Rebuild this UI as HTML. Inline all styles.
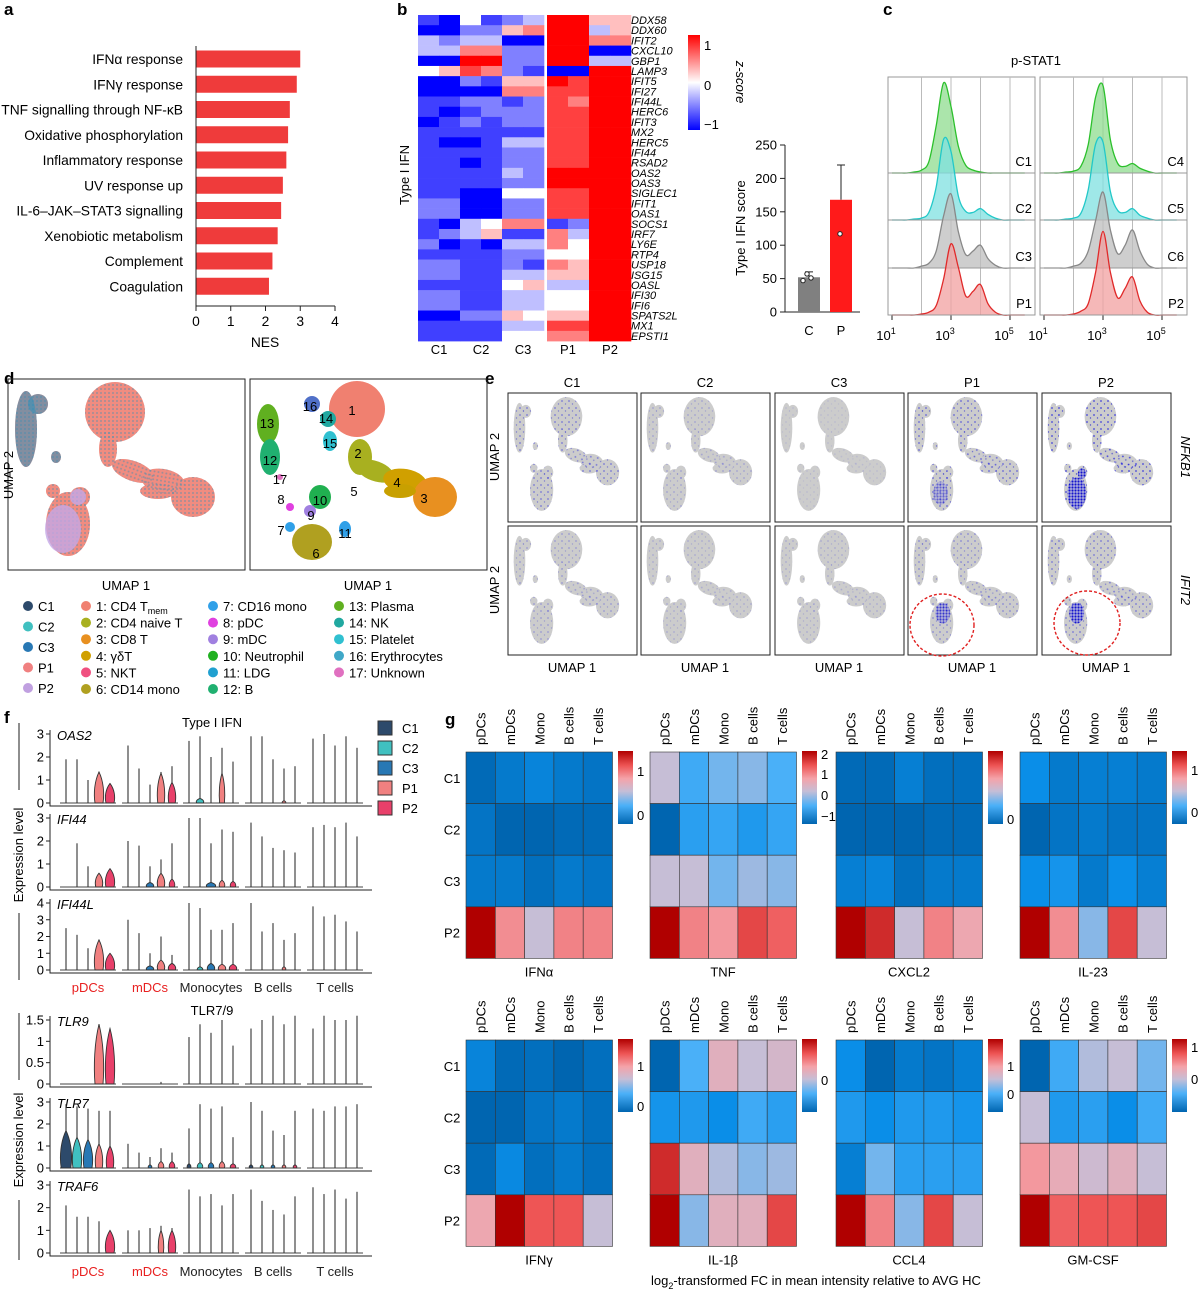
<!DOCTYPE html>
<html><head><meta charset="utf-8">
<style>
html,body{margin:0;padding:0;background:#fff;}
svg{display:block;font-family:"Liberation Sans",Arial,sans-serif;}
</style></head>
<body>
<svg id="fig" width="1200" height="1291" viewBox="0 0 1200 1291" xmlns="http://www.w3.org/2000/svg">
<defs>
<linearGradient id="bwrGrad" x1="0" y1="0" x2="0" y2="1">
<stop offset="0" stop-color="#ff0000"/><stop offset="0.5" stop-color="#ffffff"/><stop offset="1" stop-color="#0000ff"/>
</linearGradient>
<linearGradient id="gGrad" x1="0" y1="0" x2="0" y2="1">
<stop offset="0" stop-color="#b00000"/><stop offset="0.2" stop-color="#ee5555"/><stop offset="0.38" stop-color="#f4a3aa"/><stop offset="0.55" stop-color="#c6bed6"/><stop offset="0.75" stop-color="#4ab0f8"/><stop offset="1" stop-color="#0065b0"/>
</linearGradient>
<pattern id="dots" width="7" height="7" patternUnits="userSpaceOnUse"><circle cx="2" cy="2" r="0.9" fill="#2020e0"/><circle cx="5.5" cy="5" r="0.7" fill="#3030d0"/></pattern>
<pattern id="dense" width="3" height="3" patternUnits="userSpaceOnUse"><rect width="3" height="3" fill="#b0b0e0"/><circle cx="1.5" cy="1.5" r="1.1" fill="#0000cc"/></pattern>
<pattern id="teal" width="4" height="4" patternUnits="userSpaceOnUse"><circle cx="1" cy="1" r="1" fill="#3a8fb5"/></pattern>
</defs>
<g font-weight="bold" font-size="17">
<text x="4" y="15">a</text>
<text x="397" y="15">b</text>
<text x="883" y="15">c</text>
<text x="4" y="384">d</text>
<text x="485" y="384">e</text>
<text x="4" y="723">f</text>
<text x="445" y="725">g</text>
</g>
</svg>
<script>
// ---------- DATA ----------
const nesCategories=["IFNα response","IFNγ response","TNF signalling through NF-κB","Oxidative phosphorylation","Inflammatory response","UV response up","IL-6–JAK–STAT3 signalling","Xenobiotic metabolism","Complement","Coagulation"];
const nesValues=[3.0,2.9,2.7,2.65,2.6,2.5,2.45,2.35,2.2,2.1];
const nesTicks=[0,1,2,3,4];

const bGenes=["DDX58","DDX60","IFIT2","CXCL10","GBP1","LAMP3","IFIT5","IFI27","IFI44L","HERC6","IFIT3","MX2","HERC5","IFI44","RSAD2","OAS2","OAS3","SIGLEC1","IFIT1","OAS1","SOCS1","IRF7","LY6E","RTP4","USP18","ISG15","OASL","IFI30","IFI6","SPATS2L","MX1","EPSTI1"];
// digits 0..8 : z = (d-4)/4
const bValues=["1041238855","0022568835","3233008866","3366228800","0088228833","4576210088","0021558788","0000667788","1122127688","1012227788","0121227788","1111117788","1001337788","1111227788","1101227788","1111328888","1111228888","1100447788","2200227788","2200227788","1034661288","1235116388","2010336488","1111224488","2211216588","2211335588","1111453388","2211334488","2211334488","0022545588","1111337788","1111446688"];
const bColumns=["C1","C2","C3","P1","P2"];

const scoreGroups=["C","P"];
const scoreMeans=[52,168];
const scoreErr=[60,220];
const scoreDotsC=[47,57,51];
const scoreDotsP=[117];
const scoreTicks=[0,50,100,150,200,250];

const histLogs=[1,1.25,1.5,1.75,2,2.25,2.5,2.75,3,3.25,3.5,3.75,4,4.25,4.5,4.75,5,5.25,5.5];
const histC1=[0,0,0,.01,.03,.12,.5,.95,.7,.28,.08,.03,.01,0,0,0,0,0,0];
const histC2=[0,0,0,.01,.02,.08,.35,.85,.72,.25,.09,.08,.12,.06,.02,0,0,0,0];
const histC3=[0,0,0,0,.02,.05,.18,.55,.78,.38,.14,.18,.24,.1,.03,0,0,0,0];
const histP1=[0,0,0,0,.01,.03,.1,.38,.75,.5,.2,.25,.32,.12,.03,0,0,0,0];
const histC4=[0,0,0,.01,.02,.07,.3,.8,.92,.35,.1,.07,.1,.05,.02,0,0,0,0];
const histC5=[0,0,0,.01,.02,.07,.32,.8,.82,.3,.1,.08,.12,.05,.02,0,0,0,0];
const histC6=[0,0,0,0,.02,.05,.18,.5,.8,.4,.15,.24,.4,.18,.04,0,0,0,0];
const histP2=[0,0,0,0,.01,.04,.12,.45,.88,.45,.18,.28,.4,.15,.03,0,0,0,0];
const histLabels=["C1","C2","C3","P1","C4","C5","C6","P2"];

const fGroups=["pDCs","mDCs","Monocytes","B cells","T cells"];
const fSamples=["C1","C2","C3","P1","P2"];
const fGenes=["OAS2","IFI44","IFI44L","TLR9","TLR7","TRAF6"];
const fMax={
OAS2:[1.9,1.9,1.0,1.35,0.85, 2.5,1.5,0.8,1.35,1.6, 2.7,2.9,2.0,2.4,1.8, 2.9,2.9,1.9,1.5,1.6, 2.8,3.0,2.5,2.9,2.4],
IFI44:[0,1.9,0.9,0.6,0.8, 2.0,1.8,0.9,1.2,1.9, 3.0,3.0,1.9,2.5,2.4, 2.8,2.2,1.7,1.6,1.5, 2.6,2.7,2.6,2.8,2.2],
IFI44L:[2.5,2.1,1.3,1.8,1.0, 3.0,2.2,1.0,2.0,0.9, 4.0,3.7,2.4,2.4,2.8, 4.0,2.3,2.8,1.8,2.2, 3.8,3.2,3.3,2.9,2.3],
TLR9:[0,0,0,1.4,1.3, 0,0,0,0.05,0, 1.1,1.4,1.2,1.5,0.9, 1.3,1.5,1.6,1.4,1.6, 1.3,1.6,1.5,1.5,1.6],
TLR7:[2.9,2.8,2.7,2.6,2.6, 1.1,0.7,0.5,0.9,0.7, 1.8,2.9,2.7,2.8,1.4, 3.0,2.6,1.7,1.5,2.6, 2.7,2.6,2.8,2.8,2.9],
TRAF6:[2.1,1.6,1.6,1.4,1.0, 1.0,1.0,1.1,1.2,1.1, 2.8,2.5,2.6,2.1,2.6, 2.8,2.3,1.9,1.7,2.5, 2.9,2.6,2.8,2.4,2.7]};
const fBulbW={
OAS2:[0,0,0,5,5, 0,0,0,4,4, 0,4,0,3,0, 0,0,0,2,0, 0,0,0,0,0],
IFI44:[0,0,0,4,5, 0,0,4,4,3, 0,0,5,3,3, 0,0,0,0,0, 0,0,0,0,0],
IFI44L:[0,0,0,5,5, 0,0,4,4,4, 0,3,4,4,4, 0,0,0,2,0, 0,0,0,0,0],
TLR9:[0,0,0,5,5, 0,0,0,0,0, 0,0,0,0,0, 0,0,0,0,0, 0,0,0,0,0],
TLR7:[6,5,5,4,4, 0,0,2,3,3, 2,3,3,3,3, 2,2,2,2,2, 0,0,0,0,0],
TRAF6:[0,0,0,0,5, 0,0,0,3,4, 0,0,0,0,0, 0,0,0,0,0, 0,0,0,0,0]};
const fBulbH={
OAS2:[0,0,0,1.35,0.85, 0,0,0,1.3,0.9, 0,0.2,0,1.3,0, 0,0,0,0.1,0, 0,0,0,0,0],
IFI44:[0,0,0,0.6,0.8, 0,0,0.2,0.6,0.35, 0,0,0.2,0.3,0.25, 0,0,0,0,0, 0,0,0,0,0],
IFI44L:[0,0,0,1.8,1.0, 0,0,0.25,0.6,0.4, 0,0.2,0.4,0.35,0.35, 0,0,0,0.2,0, 0,0,0,0,0],
TLR9:[0,0,0,1.4,1.3, 0,0,0,0,0, 0,0,0,0,0, 0,0,0,0,0, 0,0,0,0,0],
TLR7:[1.7,1.4,1.3,1.1,1.0, 0,0,0.15,0.3,0.3, 0.2,0.25,0.25,0.3,0.2, 0.15,0.15,0.15,0.15,0.15, 0,0,0,0,0],
TRAF6:[0,0,0,0,1.0, 0,0,0,1.0,1.0, 0,0,0,0,0, 0,0,0,0,0, 0,0,0,0,0]};
const fYMax={OAS2:3,IFI44:3,IFI44L:4,TLR9:1.5,TLR7:3,TRAF6:3};
const fTicks={OAS2:[0,1,2,3],IFI44:[0,1,2,3],IFI44L:[0,1,2,3,4],TLR9:[0,0.5,1,1.5],TLR7:[0,1,2,3],TRAF6:[0,1,2,3]};

const gCells=["pDCs","mDCs","Mono","B cells","T cells"];
const gRows=["C1","C2","C3","P2"];
const gNames=["IFNα","TNF","CXCL2","IL-23","IFNγ","IL-1β","CCL4","GM-CSF"];
const gIFNa=[[-.95,-.8,-.7,-.8,-.85],[-.85,-1,-1,-.95,-.95],[-.8,-.8,-.9,-.8,-.85],[1,.45,0,.5,.5]];
const gTNF=[[0,-.35,-.2,-.15,-.3],[-1,-.45,-.4,-.5,-.4],[0,0,-.2,-.1,-.15],[1,.5,.4,.75,.65]];
const gCXCL2=[[-.95,-.95,-.75,-.9,-.9],[-1,-1,-1,-.95,-.95],[-.75,-.7,-.9,-.8,-.8],[1,.85,0,.5,.3]];
const gIL23=[[-.6,-.8,-.75,-.75,-.8],[-1,-.85,-.8,-.85,-.85],[-.6,-.55,-.8,-.6,-.75],[1,.45,-.15,.75,0]];
const gIFNg=[[-.7,-.95,-.9,-1,-.9],[-1,-1,-.85,-.8,-.9],[-.95,-.65,-.9,-.8,-.9],[.3,1,.7,.7,0]];
const gIL1b=[[-1,-.3,.2,0,.1],[-.55,-.5,-.6,-.35,-.45],[.85,.2,-.05,-.15,-.1],[1,-.15,.2,.2,.75]];
const gCCL4=[[-.6,-1,-.8,-.85,-.75],[-.5,-.6,-.5,-.5,-.55],[-.75,-.2,-.45,-.45,-.45],[1,.5,-.15,.75,0]];
const gGMCSF=[[-1,-.35,-.05,0,-.2],[0,-.5,-.45,-.6,-.35],[.4,.25,.05,.2,0],[1,.65,.7,.7,.75]];
const gTickLabels=[["1","0"],["2","1","0","−1"],["0"],["1","0"],["1","0"],["0"],["1","0"],["1","0"]];

// ---------- HELPERS ----------
const svg=document.getElementById('fig');
const NS='http://www.w3.org/2000/svg';
function mk(tag,attrs,parent){const e=document.createElementNS(NS,tag);for(const k in attrs)e.setAttribute(k,attrs[k]);(parent||svg).appendChild(e);return e;}
function tx(x,y,s,attrs,parent){const t=mk('text',Object.assign({x:x,y:y},attrs||{}),parent);t.textContent=s;return t;}
function lerp(a,b,t){return a+(b-a)*t;}
function hex(c){return [parseInt(c.slice(1,3),16),parseInt(c.slice(3,5),16),parseInt(c.slice(5,7),16)];}
function ramp(stops,v){for(let i=0;i<stops.length-1;i++){if(v<=stops[i+1][0]||i==stops.length-2){const t=Math.max(0,Math.min(1,(v-stops[i][0])/(stops[i+1][0]-stops[i][0])));const a=hex(stops[i][1]),b=hex(stops[i+1][1]);return 'rgb('+a.map((x,k)=>Math.round(lerp(x,b[k],t))).join(',')+')';}}}
const bwrStops=[[-1,'#0000ff'],[0,'#ffffff'],[1,'#ff0000']];
const gStops=[[-1,'#0065b0'],[-0.6,'#0a8ee8'],[-0.3,'#4ab0f8'],[0,'#c6bed6'],[0.35,'#f4a3aa'],[0.7,'#ee5555'],[1,'#b00000']];
function smoothPath(pts){let d='M'+pts[0][0]+','+pts[0][1];for(let i=0;i<pts.length-1;i++){const p0=pts[Math.max(0,i-1)],p1=pts[i],p2=pts[i+1],p3=pts[Math.min(pts.length-1,i+2)];d+=' C'+(p1[0]+(p2[0]-p0[0])/6)+','+(p1[1]+(p2[1]-p0[1])/6)+' '+(p2[0]-(p3[0]-p1[0])/6)+','+(p2[1]-(p3[1]-p1[1])/6)+' '+p2[0]+','+p2[1];}return d;}

// ---------- PANEL A ----------
const gA=mk('g',{'font-size':13.8});


const xA=v=>196+v*34.75, yA=i=>59+i*25.25;
nesCategories.forEach((c,i)=>{
  const r=mk('rect',{x:xA(0),y:yA(i)-8.5,width:xA(nesValues[i])-xA(0),height:17,fill:'#ef3b3b'},gA);
  
  
  const t=tx(183,yA(i)+5,c,{'text-anchor':'end'},gA);
  
  
});
let axA=mk('path',{d:'M196,46V306H335',stroke:'#222',fill:'none','stroke-width':1},gA);


nesTicks.forEach(v=>{
  const l=mk('line',{x1:xA(v),x2:xA(v),y1:306,y2:311,stroke:'#222'},gA);
  
  
  const t=tx(xA(v),326,String(v),{'text-anchor':'middle'},gA);
  
  
});
let nesT=tx(265,347,'NES',{'text-anchor':'middle'},gA);



// ---------- PANEL B ----------
const gB=mk('g',{});


const colXB=j=>418+j*21+(j>=6?3:0), rowYB=i=>15+i*10.19;
bValues.forEach((row,i)=>{
  for(let j=0;j<10;j++){
    const v=(parseInt(row[j])-4)/4;
    const r=mk('rect',{x:colXB(j),y:rowYB(i),width:21.3,height:10.5,fill:ramp(bwrStops,v)},gB);
    
    
  }
  const t=tx(631,rowYB(i)+9,bGenes[i],{'font-size':11,'font-style':'italic'},gB);
  
  
});
bColumns.forEach((c,k)=>{
  const t=tx((colXB(2*k)+colXB(2*k+1)+21)/2,354,c,{'text-anchor':'middle','font-size':13},gB);
  
  
});
let bY=tx(0,0,'Type I IFN',{'font-size':13,'text-anchor':'middle',transform:'translate(409,175) rotate(-90)'},gB);


let bCb=mk('rect',{x:688,y:35,width:12,height:95,fill:'url(#bwrGrad)'},gB);


[["1",50],["0",90],["−1",129]].forEach(p=>{const t=tx(704,p[1],p[0],{'font-size':13},gB);
  
  });
let zs=tx(0,0,'z-score',{'font-size':13,'text-anchor':'middle','font-style':'italic',transform:'translate(736,82) rotate(90)'},gB);



// ---------- TYPE I IFN SCORE ----------
const gS=mk('g',{'font-size':13});


const yS=v=>312-v*0.668;
let axS=mk('path',{d:'M785,'+yS(250)+'V312H860',stroke:'#222',fill:'none'},gS);


scoreTicks.forEach(v=>{
  const l=mk('line',{x1:780,x2:785,y1:yS(v),y2:yS(v),stroke:'#222'},gS);
  
  
  const t=tx(777,yS(v)+4.5,String(v),{'text-anchor':'end'},gS);
  
  
});
const scoreColors=['#808080','#ff1a1a'];
scoreGroups.forEach((g,i)=>{
  const x0=798+i*32;
  const e=mk('path',{d:'M'+(x0+11)+','+yS(scoreMeans[i])+'V'+yS(scoreErr[i])+'M'+(x0+7)+','+yS(scoreErr[i])+'H'+(x0+15),stroke:'#222',fill:'none'},gS);
  
  
  const r=mk('rect',{x:x0,y:yS(scoreMeans[i]),width:22,height:312-yS(scoreMeans[i]),fill:scoreColors[i]},gS);
  
  
  const t=tx(x0+11,335,g,{'text-anchor':'middle'},gS);
  
  
});
[scoreDotsC,scoreDotsP].forEach((arr,i)=>arr.forEach((v,k)=>{
  const c=mk('circle',{cx:803+i*37+k*4,cy:yS(v),r:2.2,fill:'#fff',stroke:'#222'},gS);
  
  
}));
let sY=tx(0,0,'Type I IFN score',{'text-anchor':'middle',transform:'translate(745,228) rotate(-90)'},gS);



// ---------- PANEL C ----------
const gC=mk('g',{'font-size':13});


let pst=tx(1036,65,'p-STAT1',{'text-anchor':'middle'},gC);


const histSets=[[histC1,histC2,histC3,histP1],[histC4,histC5,histC6,histP2]];
const histFill=['#8fdc8f','#7fe0e0','#bdbdbd','#f2a0a0'];
const histLine=['#2cc02c','#22c8c8','#888888','#e02a2a'];
const baseY=[173,220,268,315];
[888,1040].forEach((px,p)=>{
  const xL=l=>px+63+(l-3)*29.5;
  const box=mk('rect',{x:px,y:77,width:147,height:238,fill:'none',stroke:'#999'},gC);
  
  
  [2,3,4,5].forEach(l=>{const g=mk('line',{x1:xL(l),x2:xL(l),y1:77,y2:315,stroke:'#bbb'},gC);
    
    });
  [1,3,5].forEach(l=>{
    const t=tx(xL(l)-6,340,'10',{'text-anchor':'middle'},gC);
    const s=mk('tspan',{dy:-6,'font-size':9},t);s.textContent=String(l);
    
    
    const tk=mk('line',{x1:xL(l),x2:xL(l),y1:315,y2:320,stroke:'#222'},gC);
    
    
  });
  for(let k=0;k<4;k++){
    const arr=histSets[p][k];
    const pts=histLogs.map((l,i)=>[xL(l),baseY[k]-arr[i]*95]);
    const d=smoothPath(pts);
    const f=mk('path',{d:d+' L'+xL(5.5)+','+baseY[k]+' L'+xL(1)+','+baseY[k]+'Z',fill:histFill[k],'fill-opacity':0.75,stroke:'none'},gC);
    
    
    const ln=mk('path',{d:d,fill:'none',stroke:histLine[k],'stroke-width':1.3},gC);
    
    
    const bl=mk('line',{x1:px,x2:px+147,y1:baseY[k],y2:baseY[k],stroke:'#999'},gC);
    
    
    const t=tx(px+144,baseY[k]-7,histLabels[p*4+k],{'text-anchor':'end'},gC);
    
    
  }
});

// ---------- UMAP SHAPES ----------
const umapShape=[[107,33,30,30,0],[100,70,9,18,0],[125,92,22,10,20],[155,102,22,12,10],[185,118,22,20,0],[150,112,18,8,0],[18,50,11,38,0],[30,25,10,10,0],[60,145,22,32,0],[72,118,10,10,0],[45,112,7,7,0],[48,78,5,6,0]];
function drawShape(g,ox,oy,sx,sy,fill,op,list){
  (list||umapShape).forEach(e=>{
    const el=mk('ellipse',{cx:ox+e[0]*sx,cy:oy+e[1]*sy,rx:e[2]*sx,ry:e[3]*sy,fill:fill,'fill-opacity':op,transform:'rotate('+e[4]+' '+(ox+e[0]*sx)+' '+(oy+e[1]*sy)+')'},g);
    
    
  });
}
// ---------- PANEL D ----------
const gD=mk('g',{'font-size':13});


[[8,'umap-by-sample'],[250,'umap-by-cluster']].forEach(b=>{
  const r=mk('rect',{x:b[0],y:379,width:237,height:191,fill:'none',stroke:'#222'},gD);
  
  
  const t=tx(b[0]+118,590,'UMAP 1',{'text-anchor':'middle'},gD);
  
  
});
let dY=tx(0,0,'UMAP 2',{'text-anchor':'middle',transform:'translate(13,475) rotate(-90)'},gD);


drawShape(gD,8,379,1,1,'#f08c80',1);
drawShape(gD,8,379,1,1,'#3a8fb5',0.6,[[18,50,11,38,0],[30,25,10,10,0],[48,78,5,6,0]]);
drawShape(gD,8,379,1,1,'url(#teal)',0.45);
drawShape(gD,8,379,1,1,'#c4a8e6',0.8,[[55,150,18,24,0],[70,118,8,8,0]]);
const clusterEll=[[107,30,28,28,0,'#f08070'],[62,25,8,8,0,'#5070c8'],[78,40,8,8,0,'#20a8a0'],[80,62,7,10,0,'#30c0d0'],[110,78,12,18,0,'#a8b020'],[125,92,20,10,20,'#a8b020'],[155,102,22,12,10,'#d0a000'],[185,118,22,20,0,'#e89020'],[150,112,16,7,0,'#c8a000'],[18,45,11,20,0,'#60b020'],[20,78,10,18,0,'#20b070'],[70,118,11,12,0,'#20b050'],[60,132,6,6,0,'#a080e0'],[95,150,6,8,0,'#30a0e8'],[40,148,5,5,0,'#30a0e8'],[40,128,4,4,0,'#e040e0'],[62,163,20,18,0,'#b0a020'],[30,98,3,3,0,'#e070c0']];
clusterEll.forEach(e=>{
  const el=mk('ellipse',{cx:250+e[0],cy:379+e[1],rx:e[2],ry:e[3],fill:e[5],transform:'rotate('+e[4]+' '+(250+e[0])+' '+(379+e[1])+')'},gD);
  
  
});
const clusterNums=[["1",102,36],["16",60,32],["14",76,44],["15",80,69],["2",108,79],["4",147,108],["3",174,124],["5",104,117],["13",17,49],["12",20,86],["17",30,105],["8",31,125],["10",70,126],["9",61,141],["7",31,156],["11",95,159],["6",66,179]];
clusterNums.forEach(n=>{const t=tx(250+n[1],379+n[2],n[0],{'text-anchor':'middle'},gD);
  
  });
const legSamples=[["C1","#2d4a6b"],["C2","#40c0c0"],["C3","#2878b4"],["P1","#f08080"],["P2","#c0a0e0"]];
legSamples.forEach((s,i)=>{
  const c=mk('circle',{cx:28,cy:606+i*20.5,r:5,fill:s[1]},gD);
  
  
  const t=tx(38,611+i*20.5,s[0],{},gD);
  
  
});
const legClusters=[["1: CD4 T","#f08070","mem"],["2: CD4 naive T","#a8b020"],["3: CD8 T","#e89020"],["4: γδT","#d0a000"],["5: NKT","#f05080"],["6: CD14 mono","#b0a020"],["7: CD16 mono","#30a0e8"],["8: pDC","#e040e0"],["9: mDC","#a080e0"],["10: Neutrophil","#20b020"],["11: LDG","#20a0d0"],["12: B","#20b070"],["13: Plasma","#60b020"],["14: NK","#20a8a0"],["15: Platelet","#30c0d0"],["16: Erythrocytes","#40a8c8"],["17: Unknown","#e070c0"]];
legClusters.forEach((s,i)=>{
  const col=Math.floor(i/6),row=i%6;
  const x=[86,213,339][col],y=606+row*16.6;
  const c=mk('circle',{cx:x,cy:y,r:5,fill:s[1]},gD);
  
  
  const t=tx(x+10,y+5,s[0],{},gD);
  if(s[2]){const sp=mk('tspan',{dy:3,'font-size':9},t);sp.textContent=s[2];}
  
  
});

// ---------- PANEL E ----------
const gE=mk('g',{'font-size':13});


const eCols=["C1","C2","C3","P1","P2"];
const eX=[508,641,775,908,1042], eY=[393,526];
const eDensity=[[0.5,0.25,0.1,0.6,0.8],[0.3,0.2,0.2,0.4,0.5]];
eCols.forEach((c,j)=>{
  const t=tx(eX[j]+64,387,c,{'text-anchor':'middle'},gE);
  
  
  eY.forEach((y,i)=>{
    const r=mk('rect',{x:eX[j],y:y,width:129,height:129,fill:'none',stroke:'#222'},gE);
    
    
    const sx=125/237,sy=125/191;
    drawShape(gE,eX[j]+2,y+2,sx,sy,'#cccccc',1);
    drawShape(gE,eX[j]+2,y+2,sx,sy,'url(#dots)',eDensity[i][j]);
    if(i==0&&j==4)drawShape(gE,eX[j]+2,y+2,sx,sy,'url(#dense)',0.9,[[62,150,18,24,0],[72,120,8,8,0]]);
    if(i==0&&j==3)drawShape(gE,eX[j]+2,y+2,sx,sy,'url(#dense)',0.5,[[58,150,14,18,0]]);
    if(i==1&&j>=3){
      drawShape(gE,eX[j]+2,y+2,sx,sy,'url(#dense)',j==4?0.9:0.7,[[62,130,14,16,0]]);
      const cc=mk('ellipse',{cx:eX[j]+(j==4?45:34),cy:y+(j==4?97:99),rx:j==4?33:32,ry:j==4?32:31,fill:'none',stroke:'#e02020','stroke-width':1.4,'stroke-dasharray':'3,2'},gE);
      
      
    }
    if(i==1){const t2=tx(eX[j]+64,672,'UMAP 1',{'text-anchor':'middle'},gE);
      
      }
  });
});
[["UMAP 2",457],["UMAP 2",590]].forEach(p=>{const t=tx(0,0,p[0],{'text-anchor':'middle',transform:'translate(499,'+p[1]+') rotate(-90)'},gE);
  
  });
[["NFKB1",457],["IFIT2",590]].forEach(p=>{const t=tx(0,0,p[0],{'text-anchor':'middle','font-style':'italic',transform:'translate(1181,'+p[1]+') rotate(90)'},gE);
  
  });

// ---------- PANEL F ----------
const gF=mk('g',{'font-size':13});


const fBase={OAS2:803,IFI44:887,IFI44L:970,TLR9:1084,TLR7:1168,TRAF6:1253};
const fTop={OAS2:734,IFI44:818,IFI44L:903,TLR9:1020,TLR7:1102,TRAF6:1185};
const fColors=['#2d4a6b','#40c0c0','#2878b4','#f08080','#e8406a'];
const fGroupX=[66,128,189,251,313];
fGenes.forEach(gn=>{
  const base=fBase[gn],sc=(base-fTop[gn])/fYMax[gn];
  const yv=v=>base-v*sc;
  const ax=mk('path',{d:'M50,'+(fTop[gn]-4)+'V'+(base+3)+'H372',fill:'none',stroke:'#222'},gF);
  
  
  fTicks[gn].forEach(v=>{
    const l=mk('line',{x1:46,x2:50,y1:yv(v),y2:yv(v),stroke:'#222'},gF);
    
    
    const t=tx(44,yv(v)+4.5,String(v),{'text-anchor':'end'},gF);
    
    
  });
  const gl=tx(57,fTop[gn]+6,gn,{'font-style':'italic'},gF);
  
  
  fGroups.forEach((g,gi)=>{
    const bl=mk('line',{x1:fGroupX[gi]-6,x2:fGroupX[gi]+50,y1:base,y2:base,stroke:'#444'},gF);
    
    
    fSamples.forEach((s,si)=>{
      const idx=gi*5+si,cx=fGroupX[gi]+si*11;
      const mx=fMax[gn][idx];
      if(mx>0.02){
        const l=mk('line',{x1:cx,x2:cx,y1:base,y2:yv(mx),stroke:'#333','stroke-width':1.1},gF);
        
        
      }
      const w=fBulbW[gn][idx],h=fBulbH[gn][idx];
      if(w>0&&h>0){
        const hp=h*sc,top=base-hp;
        const d='M'+(cx-w*0.8)+','+base+' C'+(cx-w*1.1)+','+(base-hp*0.3)+' '+(cx-w*0.9)+','+(base-hp*0.7)+' '+cx+','+top+' C'+(cx+w*0.9)+','+(base-hp*0.7)+' '+(cx+w*1.1)+','+(base-hp*0.3)+' '+(cx+w*0.8)+','+base+'Z';
        const p=mk('path',{d:d,fill:fColors[si],stroke:'#333','stroke-width':0.9},gF);
        
        
      }
    });
    if(gn=='IFI44L'||gn=='TRAF6'){
      const t=tx(fGroupX[gi]+22,gn=='IFI44L'?992:1276,g,{'text-anchor':'middle',fill:gi<2?'#e82020':'#222'},gF);
      
      
    }
  });
});
[["Type I IFN",727],["TLR7/9",1015]].forEach(p=>{const t=tx(212,p[1],p[0],{'text-anchor':'middle'},gF);
  
  });
[[855,723,790,913,980],[1140,1013,1080,1200,1260]].forEach(p=>{
  const t=tx(0,0,'Expression level',{'text-anchor':'middle',transform:'translate(23,'+p[0]+') rotate(-90)'},gF);
  
  
  const b=mk('path',{d:'M19,'+p[1]+'V'+p[2]+'M19,'+p[3]+'V'+p[4],stroke:'#444','stroke-width':1.2,fill:'none'},gF);
  
  
});
fSamples.forEach((s,i)=>{
  const r=mk('rect',{x:378,y:721+i*20,width:14,height:14,fill:fColors[i],stroke:'#333'},gF);
  
  
  const t=tx(402,733+i*20,s,{},gF);
  
  
});

// ---------- PANEL G ----------
const gG=mk('g',{'font-size':13});


const gData=[gIFNa,gTNF,gCXCL2,gIL23,gIFNg,gIL1b,gCCL4,gGMCSF];
const gX=[466,650,836,1020], gYtop=[752,1040];
const gTickY=[[772,816],[755,775,796,817],[820],[771,813],[1067,1107],[1081],[1067,1095],[1048,1080]];
gData.forEach((m,h)=>{
  const x0=gX[h%4],y0=gYtop[Math.floor(h/4)];
  const cw=29.3,ch=51.6;
  m.forEach((row,i)=>row.forEach((v,j)=>{
    const r=mk('rect',{x:x0+j*cw,y:y0+i*ch,width:cw,height:ch,fill:ramp(gStops,v),stroke:'#333','stroke-width':0.6},gG);
    
    
  }));
  gCells.forEach((c,j)=>{
    const t=tx(0,0,c,{transform:'translate('+(x0+j*cw+cw/2+5)+','+(y0-7)+') rotate(-90)'},gG);
    
    
  });
  if(h%4==0)gRows.forEach((r,i)=>{const t=tx(452,y0+i*ch+ch/2+5,r,{'text-anchor':'middle'},gG);
    
    });
  const cb=mk('rect',{x:x0+152,y:y0-1,width:15,height:73,fill:'url(#gGrad)'},gG);
  
  
  gTickLabels[h].forEach((lab,k)=>{
    const t=tx(x0+171,gTickY[h][k]+4,lab,{},gG);
    
    
  });
  const nt=tx(x0+73,y0+ch*4+18,gNames[h],{'text-anchor':'middle'},gG);
  
  
});
let gT=tx(816,1285,'log',{'text-anchor':'middle'},gG);
let s1=mk('tspan',{dy:4,'font-size':9},gT);s1.textContent='2';
let s2=mk('tspan',{dy:-4},gT);s2.textContent='-transformed FC in mean intensity relative to AVG HC';


</script>
</body></html>
